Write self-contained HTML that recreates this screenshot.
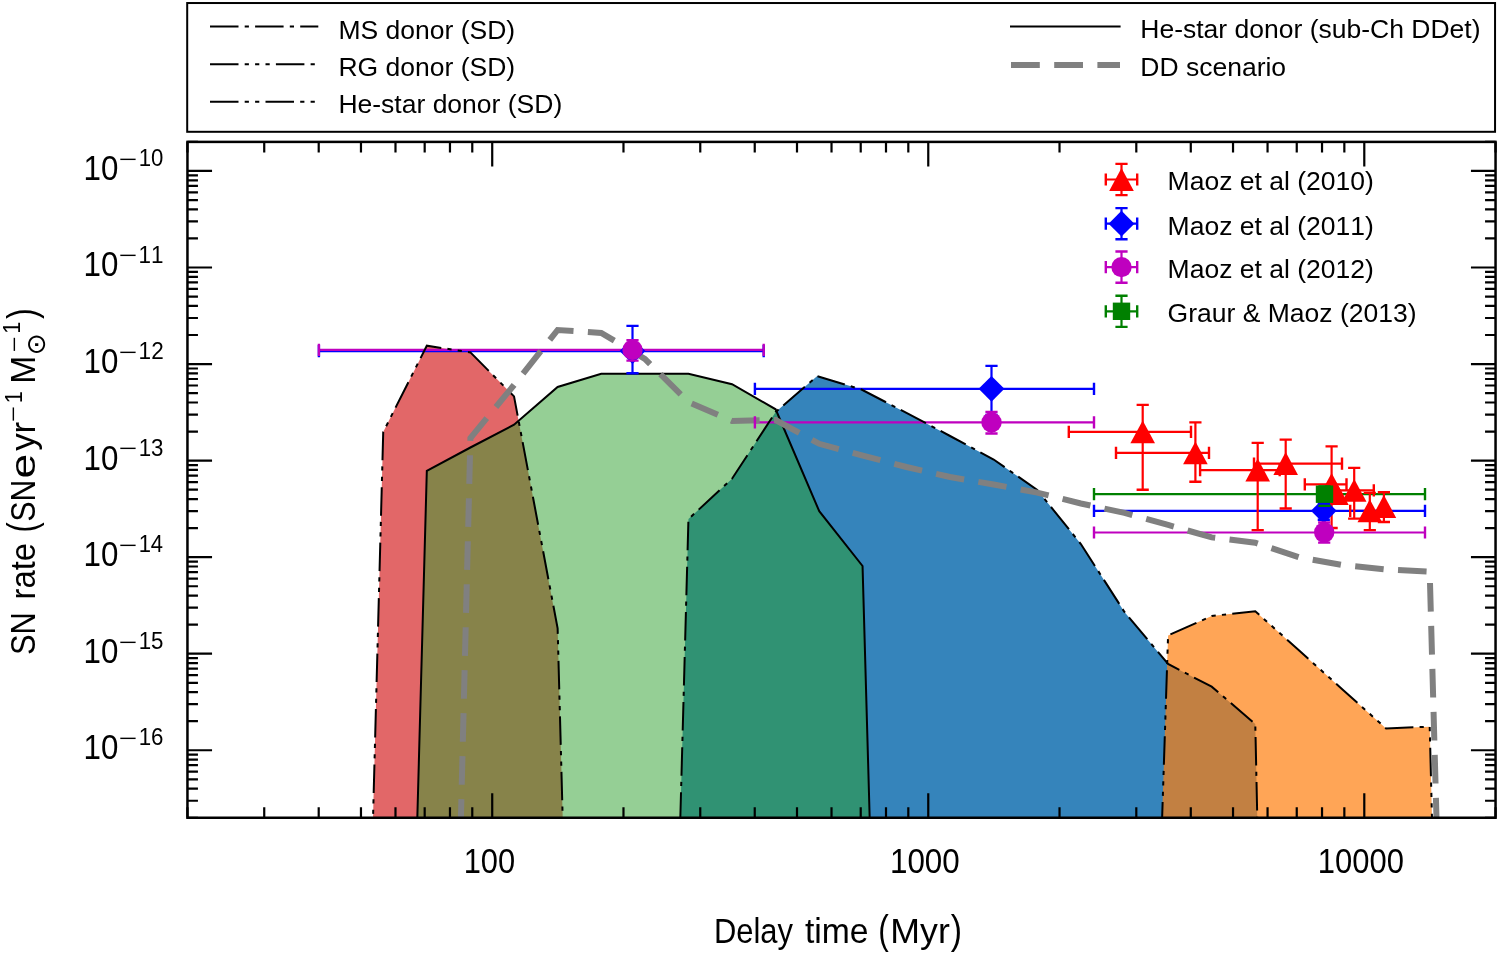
<!DOCTYPE html>
<html><head><meta charset="utf-8"><title>SN rate vs delay time</title>
<style>html,body{margin:0;padding:0;background:#fff;overflow:hidden}svg{display:block}text{font-family:"Liberation Sans",sans-serif;fill:#000;font-kerning:none}.tk{stroke:#000;stroke-width:2.2;fill:none}</style></head><body>
<svg width="1500" height="955" viewBox="0 0 1500 955">
<rect x="0" y="0" width="1500" height="955" fill="#fff"/>
<defs><clipPath id="ax"><rect x="187.45" y="141.9" width="1308.1" height="675.85"/></clipPath></defs>
<g clip-path="url(#ax)">
<polygon points="631.73,2600 688.44,519.1 732.04,478.7 775.65,412 817.25,376.1 861.55,389.5 906.46,412.9 950.06,436 993.66,459.5 1037.27,490 1080.87,544 1124.47,612 1168.08,664 1211.68,686.7 1255.28,724 1295.65,2600" fill="#1f77b4" fill-opacity="0.9"/>
<polygon points="325.8,2600 383.22,432 426.82,345.7 470.42,352.4 514.03,396.4 557.63,628.4 610.43,2600" fill="#d62728" fill-opacity="0.7"/>
<polygon points="368.4,2600 426.82,470.8 470.42,447.5 514.03,424.7 557.63,387 601.23,373.7 644.84,373.7 688.44,373.7 732.04,384.2 775.65,409.3 819.25,511.2 862.55,566 920.3,2600" fill="#2ca02c" fill-opacity="0.5"/>
<polygon points="1103.66,2600 1168.08,635.5 1211.68,616 1255.28,611.2 1298.89,650.3 1342.49,689.4 1386.09,728.5 1429.7,726.7 1477.1,2600" fill="#ff7f0e" fill-opacity="0.7"/>
<path d="M1068.8 431.9H1191M1116 452.9H1209M1200.1 470.1H1279.7M1254 463.6H1342M1304.8 484.4H1346.5M1333 490.4H1373.8M1350.2 510.8H1384" stroke="#ff0000" stroke-width="2.2" fill="none"/>
<path d="M318.9 351.1H763.7M754.9 388.8H1094M1094 510.8H1425" stroke="#0000ff" stroke-width="2.2" fill="none"/>
<path d="M318.9 349.9H763.7M754.9 422.4H1094M1094 532.5H1425" stroke="#bf00bf" stroke-width="2.2" fill="none"/>
<path d="M1094 494.2H1425" stroke="#008000" stroke-width="2.2" fill="none"/>
<path d="M1142.7 404.9V489.7M1195.4 422.4V481.8M1257.7 442.9V530.1M1285.7 439.6V508.5M1331.6 446.4V528M1354.2 467.9V518.6M1369.8 492.9V530.1M1383.9 492.2V522" stroke="#ff0000" stroke-width="2.2" fill="none"/>
<path d="M632.5 325.9V373.2M991.5 365.9V415M1323.8 503V519.7" stroke="#0000ff" stroke-width="2.2" fill="none"/>
<path d="M632.5 340.2V360.6M991.5 412V433.5M1324.2 522.5V542.6" stroke="#bf00bf" stroke-width="2.2" fill="none"/>
<path d="M1324.5 486.5V505.9" stroke="#008000" stroke-width="2.2" fill="none"/>
<path d="M680.3 818.75 L688.44 519.1 L732.04 478.7 L775.65 412 L817.25 376.1 L861.55 389.5 L906.46 412.9 L950.06 436 L993.66 459.5 L1037.27 490 L1080.87 544 L1124.47 612 L1168.08 664 L1211.68 686.7 L1255.28 724 L1257.3 818.75" fill="none" stroke="#000" stroke-width="2.0" stroke-dasharray="28.5 6.2 4.2 6.2" stroke-dashoffset="2"/>
<path d="M1162.1 818.75 L1168.08 635.5 L1211.68 616 L1255.28 611.2 L1298.89 650.3 L1342.49 689.4 L1386.09 728.5 L1429.7 726.7 L1432 818.75" fill="none" stroke="#000" stroke-width="2.0" stroke-dasharray="28.5 6.2 4.2 6.2 4.2 6.2 4.2 6.2" stroke-dashoffset="11.8"/>
<path d="M373 818.75 L383.22 432 L426.82 345.7 L470.42 352.4 L514.03 396.4 L557.63 628.4 L562.7 818.75" fill="none" stroke="#000" stroke-width="2.0" stroke-dasharray="28.5 6.2 4.2 6.2 4.2 6.2" stroke-dashoffset="29.8"/>
<path d="M417.3 818.75 L426.82 470.8 L470.42 447.5 L514.03 424.7 L557.63 387 L601.23 373.7 L644.84 373.7 L688.44 373.7 L732.04 384.2 L775.65 409.3 L819.25 511.2 L862.55 566 L869.7 818.75" fill="none" stroke="#000" stroke-width="2.0" stroke-linejoin="miter"/>
<path d="M460.9 818.75 L470.42 438 L514.03 385 L557.63 330 L601.23 332.9 L644.84 358.8 L688.44 402 L732.04 421 L775.65 420 L819.25 443.8 L862.85 455.6 L906.46 467 L950.06 477 L993.66 484.5 L1037.27 492.6 L1080.87 503.5 L1124.47 512.9 L1168.08 524.9 L1211.68 537.4 L1255.28 542.7 L1298.89 557.3 L1342.49 565 L1386.09 569.5 L1429.7 571.7 L1436.5 818.75" fill="none" stroke="#808080" stroke-width="6" stroke-dasharray="28.6 14.4" stroke-dashoffset="9" stroke-linejoin="miter"/>
<polygon points="1142.7,420.4 1130.4,443.3 1155,443.3" fill="#ff0000"/>
<polygon points="1195.4,441.4 1183.1,464.3 1207.7,464.3" fill="#ff0000"/>
<polygon points="1257.7,458.6 1245.4,481.5 1270,481.5" fill="#ff0000"/>
<polygon points="1285.7,452.1 1273.4,475 1298,475" fill="#ff0000"/>
<polygon points="1331.6,472.9 1319.3,495.8 1343.9,495.8" fill="#ff0000"/>
<polygon points="1336.4,482.2 1324.1,505.1 1348.7,505.1" fill="#ff0000"/>
<polygon points="1354.2,478.9 1341.9,501.8 1366.5,501.8" fill="#ff0000"/>
<polygon points="1369.8,499.3 1357.5,522.2 1382.1,522.2" fill="#ff0000"/>
<polygon points="1383.9,495 1371.6,517.9 1396.2,517.9" fill="#ff0000"/>
<path d="M1068.8 425.8V438M1191 425.8V438M1136.6 404.9H1148.8M1136.6 489.7H1148.8M1116 446.8V459M1209 446.8V459M1189.3 422.4H1201.5M1189.3 481.8H1201.5M1200.1 464V476.2M1279.7 464V476.2M1251.6 442.9H1263.8M1251.6 530.1H1263.8M1254 457.5V469.7M1342 457.5V469.7M1279.6 439.6H1291.8M1279.6 508.5H1291.8M1304.8 478.3V490.5M1346.5 478.3V490.5M1325.5 446.4H1337.7M1325.5 528H1337.7M1333 484.3V496.5M1373.8 484.3V496.5M1348.1 467.9H1360.3M1348.1 518.6H1360.3M1350.2 504.7V516.9M1384 504.7V516.9M1363.7 492.9H1375.9M1363.7 530.1H1375.9M1377.8 492.2H1390M1377.8 522H1390" stroke="#ff0000" stroke-width="2.4" fill="none"/>
<polygon points="632.5,338.2 645.4,351.1 632.5,364 619.6,351.1" fill="#0000ff"/>
<polygon points="991.5,375.9 1004.4,388.8 991.5,401.7 978.6,388.8" fill="#0000ff"/>
<polygon points="1323.8,497.9 1336.7,510.8 1323.8,523.7 1310.9,510.8" fill="#0000ff"/>
<path d="M318.9 345V357.2M763.7 345V357.2M626.4 325.9H638.6M626.4 373.2H638.6M754.9 382.7V394.9M1094 382.7V394.9M985.4 365.9H997.6M985.4 415H997.6M1094 504.7V516.9M1425 504.7V516.9M1317.7 503H1329.9M1317.7 519.7H1329.9" stroke="#0000ff" stroke-width="2.4" fill="none"/>
<circle cx="632.5" cy="349.9" r="10.2" fill="#bf00bf"/>
<circle cx="991.5" cy="422.4" r="10.2" fill="#bf00bf"/>
<circle cx="1324.2" cy="532.5" r="10.2" fill="#bf00bf"/>
<path d="M318.9 343.8V356M763.7 343.8V356M626.4 340.2H638.6M626.4 360.6H638.6M754.9 416.3V428.5M1094 416.3V428.5M985.4 412H997.6M985.4 433.5H997.6M1094 526.4V538.6M1425 526.4V538.6M1318.1 522.5H1330.3M1318.1 542.6H1330.3" stroke="#bf00bf" stroke-width="2.4" fill="none"/>
<rect x="1315.8" y="485.5" width="17.4" height="17.4" fill="#008000"/>
<path d="M1094 488.1V500.3M1425 488.1V500.3M1318.4 486.5H1330.6M1318.4 505.9H1330.6" stroke="#008000" stroke-width="2.4" fill="none"/>
</g>
<path d="M187.45 817.75V807.25M187.45 141.9V152.4M264.23 817.75V807.25M264.23 141.9V152.4M318.71 817.75V807.25M318.71 141.9V152.4M360.97 817.75V807.25M360.97 141.9V152.4M395.49 817.75V807.25M395.49 141.9V152.4M424.68 817.75V807.25M424.68 141.9V152.4M449.97 817.75V807.25M449.97 141.9V152.4M472.27 817.75V807.25M472.27 141.9V152.4M492.22 817.75V793.15M492.22 141.9V166.5M623.48 817.75V807.25M623.48 141.9V152.4M700.26 817.75V807.25M700.26 141.9V152.4M754.74 817.75V807.25M754.74 141.9V152.4M797 817.75V807.25M797 141.9V152.4M831.52 817.75V807.25M831.52 141.9V152.4M860.72 817.75V807.25M860.72 141.9V152.4M886 817.75V807.25M886 141.9V152.4M908.31 817.75V807.25M908.31 141.9V152.4M928.26 817.75V793.15M928.26 141.9V166.5M1059.52 817.75V807.25M1059.52 141.9V152.4M1136.3 817.75V807.25M1136.3 141.9V152.4M1190.78 817.75V807.25M1190.78 141.9V152.4M1233.03 817.75V807.25M1233.03 141.9V152.4M1267.56 817.75V807.25M1267.56 141.9V152.4M1296.75 817.75V807.25M1296.75 141.9V152.4M1322.03 817.75V807.25M1322.03 141.9V152.4M1344.34 817.75V807.25M1344.34 141.9V152.4M1364.29 817.75V793.15M1364.29 141.9V166.5M1495.55 817.75V807.25M1495.55 141.9V152.4M187.45 817.75H197.95M1495.55 817.75H1485.05M187.45 800.75H197.95M1495.55 800.75H1485.05M187.45 788.69H197.95M1495.55 788.69H1485.05M187.45 779.33H197.95M1495.55 779.33H1485.05M187.45 771.68H197.95M1495.55 771.68H1485.05M187.45 765.22H197.95M1495.55 765.22H1485.05M187.45 759.62H197.95M1495.55 759.62H1485.05M187.45 754.68H197.95M1495.55 754.68H1485.05M187.45 750.26H212.05M1495.55 750.26H1470.95M187.45 721.2H197.95M1495.55 721.2H1485.05M187.45 704.2H197.95M1495.55 704.2H1485.05M187.45 692.14H197.95M1495.55 692.14H1485.05M187.45 682.78H197.95M1495.55 682.78H1485.05M187.45 675.13H197.95M1495.55 675.13H1485.05M187.45 668.67H197.95M1495.55 668.67H1485.05M187.45 663.07H197.95M1495.55 663.07H1485.05M187.45 658.13H197.95M1495.55 658.13H1485.05M187.45 653.71H212.05M1495.55 653.71H1470.95M187.45 624.65H197.95M1495.55 624.65H1485.05M187.45 607.65H197.95M1495.55 607.65H1485.05M187.45 595.59H197.95M1495.55 595.59H1485.05M187.45 586.23H197.95M1495.55 586.23H1485.05M187.45 578.58H197.95M1495.55 578.58H1485.05M187.45 572.12H197.95M1495.55 572.12H1485.05M187.45 566.52H197.95M1495.55 566.52H1485.05M187.45 561.58H197.95M1495.55 561.58H1485.05M187.45 557.16H212.05M1495.55 557.16H1470.95M187.45 528.1H197.95M1495.55 528.1H1485.05M187.45 511.1H197.95M1495.55 511.1H1485.05M187.45 499.04H197.95M1495.55 499.04H1485.05M187.45 489.68H197.95M1495.55 489.68H1485.05M187.45 482.03H197.95M1495.55 482.03H1485.05M187.45 475.57H197.95M1495.55 475.57H1485.05M187.45 469.97H197.95M1495.55 469.97H1485.05M187.45 465.03H197.95M1495.55 465.03H1485.05M187.45 460.61H212.05M1495.55 460.61H1470.95M187.45 431.55H197.95M1495.55 431.55H1485.05M187.45 414.55H197.95M1495.55 414.55H1485.05M187.45 402.49H197.95M1495.55 402.49H1485.05M187.45 393.13H197.95M1495.55 393.13H1485.05M187.45 385.48H197.95M1495.55 385.48H1485.05M187.45 379.02H197.95M1495.55 379.02H1485.05M187.45 373.42H197.95M1495.55 373.42H1485.05M187.45 368.48H197.95M1495.55 368.48H1485.05M187.45 364.06H212.05M1495.55 364.06H1470.95M187.45 335H197.95M1495.55 335H1485.05M187.45 318H197.95M1495.55 318H1485.05M187.45 305.94H197.95M1495.55 305.94H1485.05M187.45 296.58H197.95M1495.55 296.58H1485.05M187.45 288.93H197.95M1495.55 288.93H1485.05M187.45 282.47H197.95M1495.55 282.47H1485.05M187.45 276.87H197.95M1495.55 276.87H1485.05M187.45 271.93H197.95M1495.55 271.93H1485.05M187.45 267.51H212.05M1495.55 267.51H1470.95M187.45 238.45H197.95M1495.55 238.45H1485.05M187.45 221.45H197.95M1495.55 221.45H1485.05M187.45 209.39H197.95M1495.55 209.39H1485.05M187.45 200.03H197.95M1495.55 200.03H1485.05M187.45 192.38H197.95M1495.55 192.38H1485.05M187.45 185.92H197.95M1495.55 185.92H1485.05M187.45 180.32H197.95M1495.55 180.32H1485.05M187.45 175.38H197.95M1495.55 175.38H1485.05M187.45 170.96H212.05M1495.55 170.96H1470.95M187.45 141.9H197.95M1495.55 141.9H1485.05" class="tk"/>
<rect x="187.45" y="141.9" width="1308.1" height="675.85" fill="none" stroke="#000" stroke-width="2.5"/>
<rect x="187.2" y="3.03" width="1307.85" height="128.77" fill="#fff" stroke="#000" stroke-width="2"/>
<text><tspan x="83.55" y="759.16" font-size="35.5" textLength="34.82" lengthAdjust="spacingAndGlyphs">10</tspan><tspan x="118.72" y="745.06" font-size="20" textLength="18.42" lengthAdjust="spacingAndGlyphs">−</tspan><tspan x="138.63" y="745.36" font-size="23.9" textLength="24.82" lengthAdjust="spacingAndGlyphs">16</tspan></text>
<text><tspan x="83.55" y="662.61" font-size="35.5" textLength="34.82" lengthAdjust="spacingAndGlyphs">10</tspan><tspan x="118.72" y="648.51" font-size="20" textLength="18.42" lengthAdjust="spacingAndGlyphs">−</tspan><tspan x="138.63" y="648.81" font-size="23.9" textLength="24.82" lengthAdjust="spacingAndGlyphs">15</tspan></text>
<text><tspan x="83.55" y="566.06" font-size="35.5" textLength="34.82" lengthAdjust="spacingAndGlyphs">10</tspan><tspan x="118.72" y="551.96" font-size="20" textLength="18.42" lengthAdjust="spacingAndGlyphs">−</tspan><tspan x="138.65" y="552.26" font-size="23.9" textLength="24.45" lengthAdjust="spacingAndGlyphs">14</tspan></text>
<text><tspan x="83.55" y="469.51" font-size="35.5" textLength="34.82" lengthAdjust="spacingAndGlyphs">10</tspan><tspan x="118.72" y="455.41" font-size="20" textLength="18.42" lengthAdjust="spacingAndGlyphs">−</tspan><tspan x="138.63" y="455.71" font-size="23.9" textLength="24.82" lengthAdjust="spacingAndGlyphs">13</tspan></text>
<text><tspan x="83.55" y="372.96" font-size="35.5" textLength="34.82" lengthAdjust="spacingAndGlyphs">10</tspan><tspan x="118.72" y="358.86" font-size="20" textLength="18.42" lengthAdjust="spacingAndGlyphs">−</tspan><tspan x="138.61" y="359.16" font-size="23.9" textLength="25.07" lengthAdjust="spacingAndGlyphs">12</tspan></text>
<text><tspan x="83.55" y="276.41" font-size="35.5" textLength="34.82" lengthAdjust="spacingAndGlyphs">10</tspan><tspan x="118.72" y="262.31" font-size="20" textLength="18.42" lengthAdjust="spacingAndGlyphs">−</tspan><tspan x="138.62" y="262.61" font-size="23.9" textLength="24.94" lengthAdjust="spacingAndGlyphs">11</tspan></text>
<text><tspan x="83.55" y="179.86" font-size="35.5" textLength="34.82" lengthAdjust="spacingAndGlyphs">10</tspan><tspan x="118.72" y="165.76" font-size="20" textLength="18.42" lengthAdjust="spacingAndGlyphs">−</tspan><tspan x="138.64" y="166.06" font-size="23.9" textLength="24.69" lengthAdjust="spacingAndGlyphs">10</tspan></text>
<text><tspan x="463.68" y="873.1" font-size="35.5" textLength="51.5" lengthAdjust="spacingAndGlyphs">100</tspan></text>
<text><tspan x="889.95" y="873.1" font-size="35.5" textLength="69.8" lengthAdjust="spacingAndGlyphs">1000</tspan></text>
<text><tspan x="1317.78" y="873.1" font-size="35.5" textLength="86.08" lengthAdjust="spacingAndGlyphs">10000</tspan></text>
<text><tspan x="713.93" y="942.9" font-size="35.5" textLength="79.08" lengthAdjust="spacingAndGlyphs">Delay</tspan> <tspan x="805" y="942.9" font-size="35.5" textLength="63.59" lengthAdjust="spacingAndGlyphs">time</tspan> <tspan x="878.2" y="943.9" font-size="39.76" textLength="10.56" lengthAdjust="spacingAndGlyphs">(</tspan><tspan x="890.35" y="942.9" font-size="35.5" textLength="59.42" lengthAdjust="spacingAndGlyphs">Myr</tspan><tspan x="950.66" y="943.9" font-size="39.76" textLength="11.27" lengthAdjust="spacingAndGlyphs">)</tspan></text>
<text transform="translate(35,654) rotate(-90)"><tspan x="-1.09" y="0" font-size="35.5" textLength="42.94" lengthAdjust="spacingAndGlyphs">SN</tspan> <tspan x="54.57" y="0" font-size="35.5" textLength="56.44" lengthAdjust="spacingAndGlyphs">rate</tspan> <tspan x="121.57" y="1" font-size="39.76" textLength="10.18" lengthAdjust="spacingAndGlyphs">(</tspan><tspan x="132.45" y="0" font-size="35.5" textLength="41.73" lengthAdjust="spacingAndGlyphs">SN</tspan><tspan x="175.5" y="0" font-size="35.5" textLength="24.76" lengthAdjust="spacingAndGlyphs">e</tspan> <tspan x="203.13" y="0" font-size="35.5" textLength="29.11" lengthAdjust="spacingAndGlyphs">yr</tspan><tspan x="232.14" y="-14.8" font-size="20" textLength="15.89" lengthAdjust="spacingAndGlyphs">−</tspan><tspan x="250.66" y="-13.3" font-size="23.9" textLength="12.16" lengthAdjust="spacingAndGlyphs">1</tspan> <tspan x="270.3" y="0" font-size="35.5" textLength="28.1" lengthAdjust="spacingAndGlyphs">M</tspan><tspan x="298.67" y="9.95" font-size="26.4" font-family="DejaVu Sans" textLength="22.13" lengthAdjust="spacingAndGlyphs">⊙</tspan><tspan x="301.85" y="-14.2" font-size="20" textLength="15.77" lengthAdjust="spacingAndGlyphs">−</tspan><tspan x="320.36" y="-15.2" font-size="23.9" textLength="12.16" lengthAdjust="spacingAndGlyphs">1</tspan><tspan x="334.88" y="1" font-size="39.76" textLength="10.76" lengthAdjust="spacingAndGlyphs">)</tspan></text>
<path d="M210 26.5H318.3" stroke="#000" stroke-width="2" stroke-dasharray="28.5 6.2 4.2 6.2" fill="none"/>
<text x="338.4" y="38.5" font-size="26.5">MS donor (SD)</text>
<path d="M210 64.3H318.3" stroke="#000" stroke-width="2" stroke-dasharray="28.5 6.2 4.2 6.2 4.2 6.2 4.2 6.2" fill="none"/>
<text x="338.4" y="76.2" font-size="26.5">RG donor (SD)</text>
<path d="M210 101.7H318.3" stroke="#000" stroke-width="2" stroke-dasharray="28.5 6.2 4.2 6.2 4.2 6.2" fill="none"/>
<text x="338.4" y="113.3" font-size="26.5">He-star donor (SD)</text>
<path d="M1010 26.5H1120.6" stroke="#000" stroke-width="2" fill="none"/>
<text x="1140.3" y="38.4" font-size="26.5">He-star donor (sub-Ch DDet)</text>
<path d="M1011 65H1120" stroke="#808080" stroke-width="6" stroke-dasharray="28.8 14.4" fill="none"/>
<text x="1140.3" y="76.3" font-size="26.5">DD scenario</text>
<path d="M1105.8 179.5H1137.2M1121.5 163.9V195.1" stroke="#ff0000" stroke-width="2.2" fill="none"/>
<polygon points="1121.5,168 1109.2,190.9 1133.8,190.9" fill="#ff0000"/>
<path d="M1105.8 173.4V185.6M1137.2 173.4V185.6M1115.4 163.9H1127.6M1115.4 195.1H1127.6" stroke="#ff0000" stroke-width="2.4" fill="none"/>
<text x="1167.6" y="190.3" font-size="26.5">Maoz et al (2010)</text>
<path d="M1105.8 223.7H1137.2M1121.5 208.1V239.3" stroke="#0000ff" stroke-width="2.2" fill="none"/>
<polygon points="1121.5,210.8 1134.4,223.7 1121.5,236.6 1108.6,223.7" fill="#0000ff"/>
<path d="M1105.8 217.6V229.8M1137.2 217.6V229.8M1115.4 208.1H1127.6M1115.4 239.3H1127.6" stroke="#0000ff" stroke-width="2.4" fill="none"/>
<text x="1167.6" y="234.5" font-size="26.5">Maoz et al (2011)</text>
<path d="M1105.8 267.1H1137.2M1121.5 251.5V282.7" stroke="#bf00bf" stroke-width="2.2" fill="none"/>
<circle cx="1121.5" cy="267.1" r="10.2" fill="#bf00bf"/>
<path d="M1105.8 261V273.2M1137.2 261V273.2M1115.4 251.5H1127.6M1115.4 282.7H1127.6" stroke="#bf00bf" stroke-width="2.4" fill="none"/>
<text x="1167.6" y="277.9" font-size="26.5">Maoz et al (2012)</text>
<path d="M1105.8 311.3H1137.2M1121.5 295.7V326.9" stroke="#008000" stroke-width="2.2" fill="none"/>
<rect x="1112.8" y="302.6" width="17.4" height="17.4" fill="#008000"/>
<path d="M1105.8 305.2V317.4M1137.2 305.2V317.4M1115.4 295.7H1127.6M1115.4 326.9H1127.6" stroke="#008000" stroke-width="2.4" fill="none"/>
<text x="1167.6" y="322.1" font-size="26.5">Graur &amp; Maoz (2013)</text>
</svg></body></html>
